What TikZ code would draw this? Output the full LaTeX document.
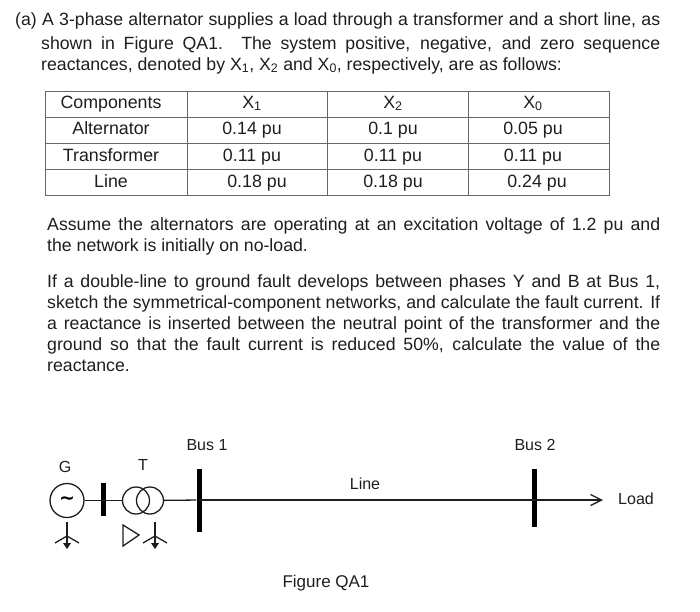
\documentclass[tikz,border=0pt]{standalone}
\usepackage{fontspec}
\setmainfont{Liberation Sans}
\newfontfamily\symf{DejaVu Sans}
\usetikzlibrary{arrows.meta}
\usetikzlibrary{calc}

\definecolor{inkc}{HTML}{1E1E1E}
\definecolor{gridc}{HTML}{666666}
\newcommand{\sub}[1]{\textsubscript{#1}}
\newcommand{\just}[2]{\makebox[#1pt][s]{#2}}

\tikzset{
  txt/.style={anchor=base west,inner sep=0pt,font=\fontsize{17.7}{21}\selectfont,text=inkc},
  lab/.style={inner sep=0pt,font=\fontsize{16}{20}\selectfont,text=inkc},
  tab/.style={anchor=base,inner sep=0pt,font=\fontsize{17.8}{21}\selectfont,text=inkc},
  wire/.style={draw=inkc,line width=1.3pt},
  bar/.style={fill=black,draw=none,inner sep=0pt,minimum width=5pt},
  winding/.style={circle,draw=inkc,line width=1.3pt,inner sep=0pt,minimum size=27pt},
  earth/.pic={
    \draw[wire] (0,0) -- (0,-21);
    \draw[wire] (-12,-21) -- (0,-14) -- (12,-21);
    \fill[inkc] (-4,-21) -- (4,-21) -- (0,-27) -- cycle;
  }
}

\begin{document}
\begin{tikzpicture}[x=1pt,y=1pt]
\useasboundingbox (0,0) rectangle (700,-611);

% question text
\node[txt](l1) at (15,-25){\just{645}{(a) A 3-phase alternator supplies a load through a transformer and a short line, as}};
\node[txt](l2) at (41,-49){\just{619}{shown in Figure QA1. The system positive, negative, and zero sequence}};
\node[txt](l3) at (41,-70){reactances, denoted by X\sub{1}, X\sub{2} and X\sub{0}, respectively, are as follows:};

% table
\draw[gridc,line width=1pt] (45,-91) rectangle (609,-195);
\foreach \y in {-117,-143,-169}
  \draw[gridc,line width=1pt] (45,\y) -- (609,\y);
\foreach \x in {187,327,468}
  \draw[gridc,line width=1pt] (\x,-91) -- (\x,-195);

\node[tab](c0) at (111,-108){Components};
\node[tab](c1) at (111,-134){Alternator};
\node[tab](c2) at (111,-161){Transformer};
\node[tab](c3) at (111,-187){Line};
\node[tab](xa0) at (252,-108){X\sub{1}};
\node[tab](xa1) at (252,-134){0.14 pu};
\node[tab](xa2) at (252,-161){0.11 pu};
\node[tab](xa3) at (257,-187){0.18 pu};
\node[tab](xb0) at (393,-108){X\sub{2}};
\node[tab](xb1) at (393,-134){0.1 pu};
\node[tab](xb2) at (393,-161){0.11 pu};
\node[tab](xb3) at (393,-187){0.18 pu};
\node[tab](xc0) at (533,-108){X\sub{0}};
\node[tab](xc1) at (533,-134){0.05 pu};
\node[tab](xc2) at (533,-161){0.11 pu};
\node[tab](xc3) at (537,-187){0.24 pu};

\node[txt](p1) at (47,-230){\just{613}{Assume the alternators are operating at an excitation voltage of 1.2 pu and}};
\node[txt](p2) at (47,-251){the network is initially on no-load.};
\node[txt](q1) at (47,-287){\just{613}{If a double-line to ground fault develops between phases Y and B at Bus 1,}};
\node[txt](q2) at (47,-308){\just{613}{sketch the symmetrical-component networks, and calculate the fault current. If}};
\node[txt](q3) at (47,-329){\just{613}{a reactance is inserted between the neutral point of the transformer and the}};
\node[txt](q4) at (47,-350){\just{613}{ground so that the fault current is reduced 50\%, calculate the value of the}};
\node[txt](q5) at (47,-371){reactance.};

% one-line diagram
\node[winding,minimum size=34pt,font=\symf\bfseries\fontsize{19}{19}\selectfont](G) at (67,-500.5){∼};
\node[bar,minimum height=33pt](busT) at (103,-499){};
\node[winding](T1) at (136,-500.5){};
\node[winding](T2) at (150,-500.5){};
\node[bar,minimum height=63pt](bus1) at (199,-500){};
\node[bar,minimum height=58pt](bus2) at (534,-498){};
\coordinate(end) at (603,-500);

\node[lab](labG) at (65,-467){G};
\node[lab](labT) at (143,-465){T};
\node[lab](labB1) at (207,-445){Bus 1};
\node[lab](labB2) at (535,-445){Bus 2};
\node[lab](labL) at (365,-484){Line};
\node[lab](labLoad) at (636,-499){Load};
\node[lab,font=\fontsize{17}{21}\selectfont](fig) at (326,-583){Figure QA1};

\path[wire]
(G) edge (T1)
(T2) edge (bus1);
\draw[wire] (bus1.center) -- (bus1.center -| bus2.center);
\draw[wire,-{Straight Barb[length=11pt,width=11pt]}] (bus1.center -| bus2.center) -- (end);

\pic at (67,-522) {earth};
\pic at (155,-522) {earth};
\draw[wire,line join=miter] (123,-525) -- (123,-546) -- (139,-535) -- cycle;
\end{tikzpicture}
\end{document}
